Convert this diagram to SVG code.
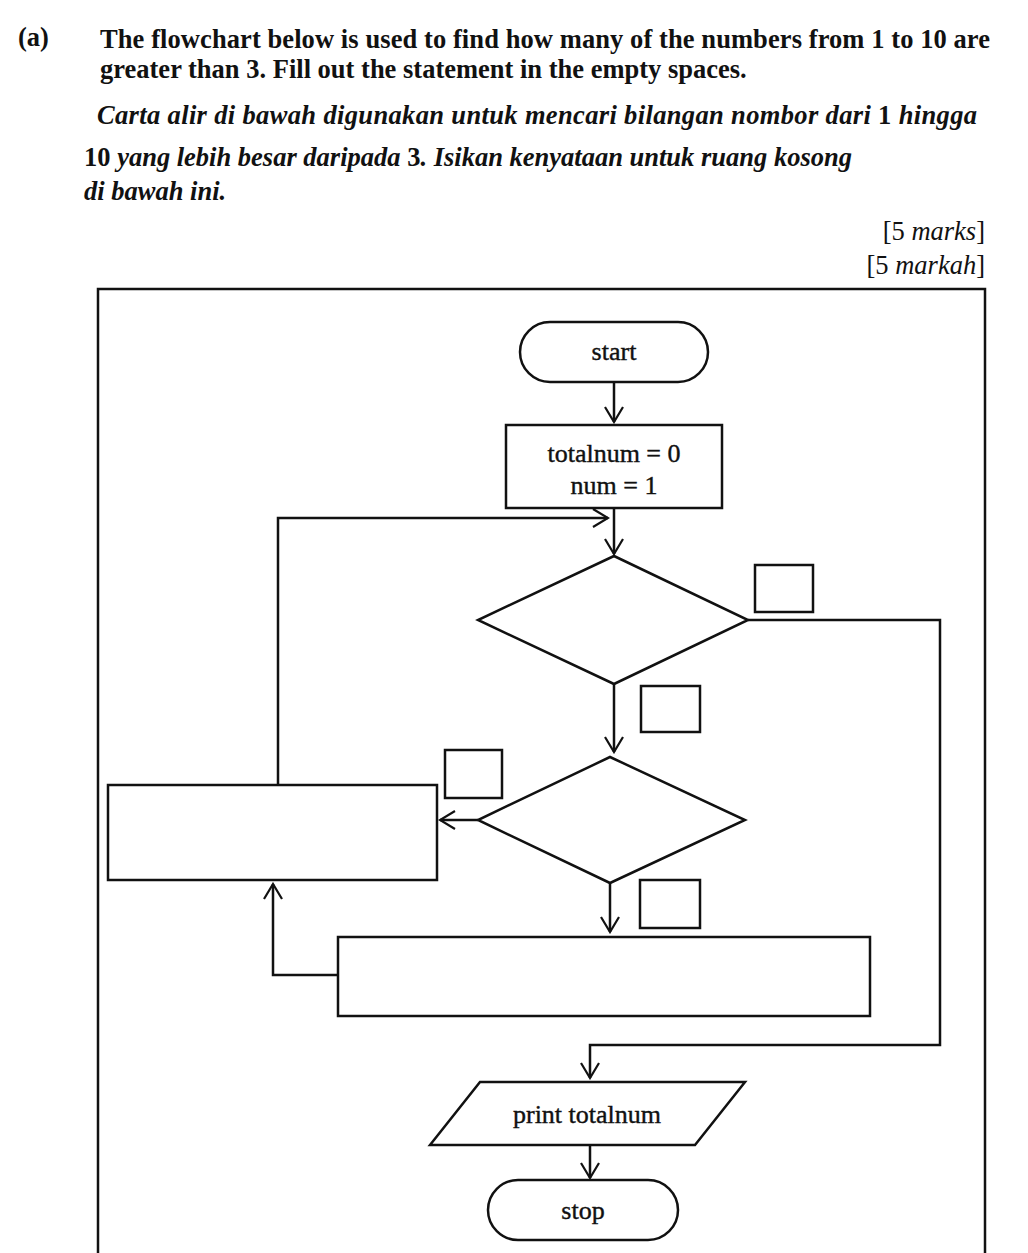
<svg xmlns="http://www.w3.org/2000/svg" width="1028" height="1253" viewBox="0 0 1028 1253">
<style>
.t{font-family:"Liberation Serif","Times New Roman",serif;font-size:26.5px;fill:#111}
.i{font-style:italic}
.b{font-weight:bold}
.s{fill:#fff;stroke:#111;stroke-width:2.5}
.c{fill:none;stroke:#111;stroke-width:2.5}
.n{font-family:"Liberation Serif","Times New Roman",serif;font-size:26px;fill:#111;text-anchor:middle;stroke:#111;stroke-width:0.4}
</style>
<defs>
<marker id="a" viewBox="0 0 20 20" refX="18" refY="10" markerWidth="20" markerHeight="20" markerUnits="userSpaceOnUse" orient="auto"><path d="M3 1 L18 10 L3 19" fill="none" stroke="#111" stroke-width="2.2"/></marker>
</defs>
<rect width="1028" height="1253" fill="#fff"/>
<text class="t b" x="18" y="46">(a)</text>
<text class="t b" x="100" y="48" textLength="890">The flowchart below is used to find how many of the numbers from 1 to 10 are</text>
<text class="t b" x="100" y="78">greater than 3. Fill out the statement in the empty spaces.</text>
<text class="t b i" x="97" y="124" textLength="880">Carta alir di bawah digunakan untuk mencari bilangan nombor dari <tspan font-style="normal">1</tspan> hingga</text>
<text class="t b i" x="84" y="166"><tspan font-style="normal">10</tspan> yang lebih besar daripada <tspan font-style="normal">3</tspan>. Isikan kenyataan untuk ruang kosong</text>
<text class="t b i" x="84" y="200">di bawah ini.</text>
<text class="t" x="985" y="240" text-anchor="end">[5 <tspan font-style="italic">marks</tspan>]</text>
<text class="t" x="985" y="274" text-anchor="end">[5 <tspan font-style="italic">markah</tspan>]</text>
<rect x="98" y="289" width="887" height="980" class="c"/>
<g id="connectors">
<path class="c" d="M614 382 V422" marker-end="url(#a)"/>
<path class="c" d="M614 508 V554" marker-end="url(#a)"/>
<path class="c" d="M278 785 V518 H608" marker-end="url(#a)"/>
<path class="c" d="M748 620 H940 V1045 H590 V1078" marker-end="url(#a)"/>
<path class="c" d="M614 684 V752" marker-end="url(#a)"/>
<path class="c" d="M478 820 H440" marker-end="url(#a)"/>
<path class="c" d="M610 883 V932" marker-end="url(#a)"/>
<path class="c" d="M338 975 H273 V884" marker-end="url(#a)"/>
<path class="c" d="M590 1145 V1178" marker-end="url(#a)"/>
</g>
<g id="start"><rect x="520" y="322" width="188" height="60" rx="30" class="s"/><text class="n" x="614" y="360">start</text></g>
<g id="init"><rect x="506" y="425" width="216" height="83" class="s"/><text class="n" x="614" y="462">totalnum = 0</text><text class="n" x="614" y="494">num = 1</text></g>
<g id="d1"><polygon points="614,556 748,620 614,684 478,620" class="s"/></g>
<g id="b1"><rect x="755" y="565" width="58" height="47" class="s"/></g>
<g id="b2"><rect x="641" y="686" width="59" height="46" class="s"/></g>
<g id="d2"><polygon points="610,757 745,820 610,883 478,820" class="s"/></g>
<g id="b3"><rect x="445" y="750" width="57" height="48" class="s"/></g>
<g id="p1"><rect x="108" y="785" width="329" height="95" class="s"/></g>
<g id="b4"><rect x="640" y="880" width="60" height="48" class="s"/></g>
<g id="p2"><rect x="338" y="937" width="532" height="79" class="s"/></g>
<g id="print"><polygon points="430,1145 480,1082 745,1082 695,1145" class="s"/><text class="n" x="587" y="1123">print totalnum</text></g>
<g id="stop"><rect x="488" y="1180" width="190" height="60" rx="30" class="s"/><text class="n" x="583" y="1219">stop</text></g>
</svg>
